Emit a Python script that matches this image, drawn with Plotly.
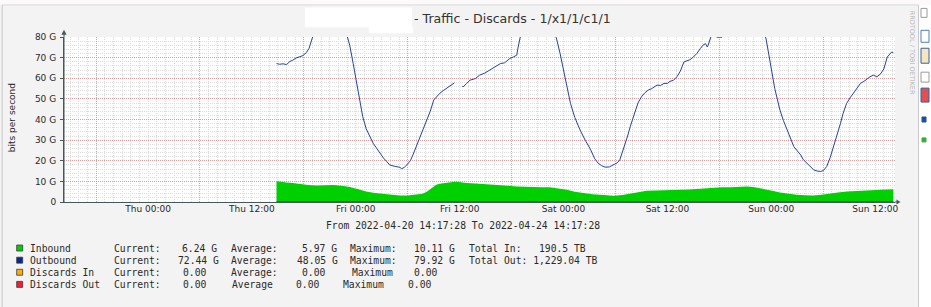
import plotly.graph_objects as go
import pandas as pd

# ---------------- data ----------------
BASE = pd.Timestamp("2022-04-21 00:00")   # Thu 00:00
RANGE_START = "2022-04-20 14:17:28"
RANGE_END = "2022-04-24 14:17:28"

# Inbound (G bits/s), hours after Thu 00:00
in_hours = [14.84, 15.2, 15.6, 16.0, 16.7, 17.5, 18.5, 19.5, 20.4, 21.4, 22.4, 23.3, 24.3, 25.2,
            26.2, 27.2, 28.2, 29.1, 30.0, 31.0, 31.7, 32.2, 32.6, 33.0, 33.3, 33.7, 34.1, 34.5,
            34.9, 35.2, 35.25, 35.45, 35.7, 35.95, 36.0, 36.3, 36.8, 37.8, 38.7, 39.7, 40.7, 41.6,
            42.6, 43.5, 44.5, 45.5, 46.4, 47.4, 48.4, 49.3, 50.3, 51.3, 52.2, 53.2, 53.8, 54.8,
            55.7, 56.7, 57.6, 58.6, 59.6, 60.6, 61.5, 62.5, 63.4, 64.4, 65.3, 66.3, 67.3, 68.2,
            69.2, 70.1, 71.1, 72.1, 73.0, 74.0, 74.9, 75.9, 76.9, 77.8, 78.8, 79.7, 80.7, 81.7,
            82.6, 83.6, 84.6, 85.5, 86.1]
in_vals = [10.1, 9.8, 9.7, 9.5, 9.2, 8.6, 8.2, 8.0, 8.1, 8.2, 7.9, 7.3, 6.2, 5.1,
           4.4, 3.9, 3.5, 3.2, 3.2, 3.5, 4.0, 5.0, 6.3, 7.5, 8.4, 8.9, 9.2, 9.5,
           9.6, 9.7, None, 9.8, 9.9, 9.7, None, 9.5, 9.2, 9.0, 8.8, 8.6, 8.4, 7.9,
           7.5, 7.3, 7.2, 7.2, 7.2, 6.6, 5.9, 5.0, 4.3, 3.8, 3.5, 3.2, 3.0, 3.4,
           4.0, 4.8, 5.5, 5.6, 5.6, 5.7, 5.9, 6.1, 6.4, 6.8, 7.1, 7.1, 7.1, 7.3,
           7.5, 7.1, 6.4, 5.5, 4.6, 4.0, 3.5, 3.3, 3.2, 3.5, 3.9, 4.6, 5.1, 5.4,
           5.6, 5.7, 5.9, 6.0, 6.2]

# Outbound (G bits/s), hours after Thu 00:00
out_hours = [14.84, 15.2, 15.6, 16.0, 16.4, 16.7, 17.1, 17.5, 17.9, 18.3, 18.6, 18.9, 19.3, 20.0,
             21.0, 22.0, 22.7, 23.1, 23.3, 23.7, 24.1, 24.5, 24.8, 25.2, 25.6, 26.0, 26.4, 26.8,
             27.2, 27.6, 27.9, 28.3, 28.7, 29.1, 29.3, 29.6, 29.9, 30.3, 30.6, 31.0, 31.4, 31.8,
             32.2, 32.6, 33.0, 33.4, 33.7, 34.1, 34.5, 34.9, 35.25, 35.4, 35.7, 36.3, 36.4, 36.8,
             37.2, 37.8, 38.3, 38.9, 39.5, 40.1, 40.7, 41.2, 41.8, 42.2, 42.6, 42.7, 43.0, 43.3,
             44.1, 45.3, 46.4, 47.2, 47.6, 48.0, 48.4, 48.8, 49.3, 49.9, 50.5, 51.1, 51.6, 52.0,
             52.4, 52.8, 53.3, 53.8, 54.2, 54.5, 54.8, 55.1, 55.4, 55.7, 56.0, 56.3, 56.6, 57.0,
             57.4, 57.8, 58.2, 58.8, 59.2, 59.6, 60.0, 60.3, 60.7, 61.1, 61.5, 61.9, 62.3, 62.6,
             63.0, 63.4, 63.8, 64.1, 64.4, 64.6, 64.7, 64.9, 65.1, 65.4, 65.7, 66.0, 66.3, 66.5,
             67.3, 69.0, 70.7, 71.4, 71.7, 72.0, 72.4, 72.8, 73.0, 73.4, 73.8, 74.2, 74.6, 75.0,
             75.4, 75.7, 76.1, 76.5, 76.9, 77.3, 77.7, 78.0, 78.4, 78.8, 79.2, 79.6, 80.0, 80.3,
             80.7, 81.1, 81.5, 81.9, 82.3, 82.7, 83.0, 83.4, 83.8, 84.2, 84.6, 85.0, 85.4, 85.6,
             85.9, 86.1]
out_vals = [67.1, 66.8, 67.0, 66.6, 68.2, 68.7, 69.8, 70.5, 71.0, 72.5, 74.5, 78.5, 84, 89,
            93, 91, 85, 79, 76, 67.1, 57.5, 50, 41.4, 35.5, 31.7, 28.5, 26.1, 23.5,
            21.3, 19.5, 18.0, 17.5, 17.2, 16.8, 16.1, 16.8, 18.0, 20.0, 22.8, 27.0, 31.7, 35.5,
            39.8, 44.0, 49.4, 51.5, 52.7, 54.0, 55.1, 56.5, 57.5, 57.8, None, 56.3, 55.8, 57.5,
            59.1, 59.8, 61.5, 62.5, 63.9, 65.5, 67.1, 67.5, 69.6, 70.3, 71.2, 74, 80, 86,
            92, 95, 90, 79, 72, 63.9, 56, 47.8, 41, 35.0, 30.0, 25.6, 21.0, 18.8,
            17.6, 16.9, 17.0, 18.0, 19.0, 20.4, 24.0, 28.5, 32.0, 36.5, 40.5, 44.6, 48.0, 51.0,
            53.0, 54.3, 55.0, 56.7, 56.5, 57.5, 57.5, 58.5, 59.0, 60.7, 63.5, 67.9, 68.5, 69.0,
            70.3, 72.0, 74.4, 76.0, 76.8, 75.2, 76.0, 78.5, 81, 82, 79.9, 79.9, 79.9, 82,
            90, 95, 88, 79, 72, 63.9, 55, 48, 44.6, 39.5, 35, 30.5, 26.9, 24.8,
            22.8, 20.5, 18.8, 17.0, 15.6, 15.0, 14.8, 15.2, 17.2, 21.5, 26.9, 32.5, 38.2, 43.0,
            47.8, 50.5, 52.7, 55.0, 57.5, 58.5, 59.5, 60.7, 61.5, 60.7, 62.0, 64.5, 70.3, 71.5,
            72.7, 72.4]

disc_hours = [14.84, 86.1]
disc_in_vals = [0.0, 0.0]
disc_out_vals = [0.0, 0.0]

ytick_vals = [0, 10, 20, 30, 40, 50, 60, 70, 80]
ytick_text = ["0", "10 G", "20 G", "30 G", "40 G", "50 G", "60 G", "70 G", "80 G"]

xtick_times = ["2022-04-21 00:00", "2022-04-21 12:00", "2022-04-22 00:00", "2022-04-22 12:00",
               "2022-04-23 00:00", "2022-04-23 12:00", "2022-04-24 00:00", "2022-04-24 12:00"]
xtick_text = ["Thu 00:00", "Thu 12:00", "Fri 00:00", "Fri 12:00",
              "Sat 00:00", "Sat 12:00", "Sun 00:00", "Sun 12:00"]
major_grid_times = ["2022-04-20 18:00", "2022-04-21 06:00", "2022-04-21 18:00", "2022-04-22 06:00",
                    "2022-04-22 18:00", "2022-04-23 06:00", "2022-04-23 18:00", "2022-04-24 06:00"]

legend_names = ["Inbound", "Outbound", "Discards In", "Discards Out"]
legend_colors = ["#00CF00", "#002A97", "#FFAB00", "#F51D30"]
legend_rows = [
    ["Current:", "6.24 G", "Average:", "5.97 G", "Maximum:", "10.11 G", "Total In:", "190.5 TB"],
    ["Current:", "72.44 G", "Average:", "48.05 G", "Maximum:", "79.92 G", "Total Out: 1,229.04 TB"],
    ["Current:", "0.00", "Average:", "0.00", "Maximum", "0.00"],
    ["Current:", "0.00", "Average", "0.00", "Maximum", "0.00"],
]

TITLE = "- Traffic - Discards - 1/x1/1/c1/1"
YTITLE = "bits per second"
FROM_TO = "From 2022-04-20 14:17:28 To 2022-04-24 14:17:28"
WATERMARK = "RRDTOOL / TOBI OETIKER"

# ---------------- layout geometry ----------------
W, H = 931, 307
PL, PR, PT, PB = 64.3, 895.0, 36.7, 202.3


def px(x):
    return (x - PL) / (PR - PL)


def py(y):
    return (PB - y) / (PB - PT)


def to_time(hours):
    return [BASE + pd.Timedelta(hours=h) for h in hours]


# hourly minor grid positions, skipping the major (red) grid times
major_set = set(pd.to_datetime(major_grid_times))
minor_times = [t for t in pd.date_range("2022-04-20 15:00", "2022-04-24 14:00", freq="h")
               if t not in major_set]

MONO = "DejaVu Sans Mono"
SANS = "DejaVu Sans"
TXT = "#2a2a2a"
MAJ = "rgba(232,110,110,0.6)"
MIN = "#DDDDDD"

fig = go.Figure()

# invisible trace on the overlay axis that carries the time labels
fig.add_trace(go.Scatter(x=[RANGE_START], y=[0], xaxis="x2", mode="markers",
                         marker=dict(opacity=0), hoverinfo="skip", showlegend=False))
fig.add_trace(go.Scatter(x=to_time(in_hours), y=in_vals, mode="lines", fill="tozeroy",
                         fillcolor="#00CF00", line=dict(width=0, color="#00CF00"),
                         connectgaps=False, hoverinfo="skip", showlegend=False))
fig.add_trace(go.Scatter(x=to_time(out_hours), y=out_vals, mode="lines",
                         line=dict(width=1, color="#2443A3"), connectgaps=False,
                         hoverinfo="skip", showlegend=False))
fig.add_trace(go.Scatter(x=to_time(disc_hours), y=disc_in_vals, mode="lines",
                         line=dict(width=1, color="#FFAB00"), hoverinfo="skip", showlegend=False))
fig.add_trace(go.Scatter(x=to_time(disc_hours), y=disc_out_vals, mode="lines",
                         line=dict(width=1.5, color="#B01818"), hoverinfo="skip", showlegend=False))

shapes = []
# axis extensions with arrows
AX = "#46585A"
shapes.append(dict(type="line", xref="paper", yref="paper", x0=px(PL), x1=px(PL), y0=py(PB), y1=py(32),
                   line=dict(color=AX, width=1), layer="above"))
shapes.append(dict(type="path", xref="paper", yref="paper",
                   path=f"M {px(PL-2.6)},{py(34.5)} L {px(PL+2.6)},{py(34.5)} L {px(PL)},{py(29.5)} Z",
                   fillcolor=AX, line=dict(width=0), layer="above"))
shapes.append(dict(type="line", xref="paper", yref="paper", x0=px(PR), x1=px(897), y0=py(PB), y1=py(PB),
                   line=dict(color=AX, width=1), layer="above"))
shapes.append(dict(type="path", xref="paper", yref="paper",
                   path=f"M {px(896.5)},{py(PB-2.6)} L {px(896.5)},{py(PB+2.6)} L {px(900.5)},{py(PB)} Z",
                   fillcolor=AX, line=dict(width=0), layer="above"))
# redaction box over title prefix
for (x0, y0, x1, y1) in [(305, 7, 412, 27), (369, 26, 413, 33)]:
    shapes.append(dict(type="rect", xref="paper", yref="paper", x0=px(x0), x1=px(x1), y0=py(y1), y1=py(y0),
                       fillcolor="white", line=dict(width=0), layer="above"))
# outside frame (top strip and right column)
shapes.append(dict(type="rect", xref="paper", yref="paper", x0=px(-2), x1=px(W + 2), y0=py(4.5), y1=py(-2),
                   fillcolor="#FBF9F9", line=dict(width=0), layer="above"))
shapes.append(dict(type="rect", xref="paper", yref="paper", x0=px(918.5), x1=px(W + 2), y0=py(H + 2), y1=py(4.5),
                   fillcolor="#FFFFFF", line=dict(width=0), layer="above"))
shapes.append(dict(type="line", xref="paper", yref="paper", x0=px(918.5), x1=px(918.5), y0=py(H + 2), y1=py(4.5),
                   line=dict(color="#C9C9C9", width=1), layer="above"))
shapes.append(dict(type="line", xref="paper", yref="paper", x0=px(2.5), x1=px(2.5), y0=py(H + 2), y1=py(4.5),
                   line=dict(color="#C9C9C9", width=1), layer="above"))
shapes.append(dict(type="line", xref="paper", yref="paper", x0=px(2.5), x1=px(918.5), y0=py(4.5), y1=py(4.5),
                   line=dict(color="#DADADA", width=1), layer="above"))
# icon stubs in the right column
icons = [(921, 8, 927, 17, "#FFFFFF", "#9A9A9A"), (921, 30, 929, 42, "#FFFFFF", "#4A7EC0"),
         (921, 48, 929, 63, "#F4E7C0", "#3A5FA0"), (921, 72, 929, 82, "#FFFFFF", "#9A9A9A"),
         (921, 88, 929, 102, "#E05050", "#3060B0"), (922, 117, 926, 122, "#1F4E9A", "#1F4E9A"),
         (922, 138, 926, 142, "#3DAA3D", "#3DAA3D")]
for (x0, y0, x1, y1, fc, lc) in icons:
    shapes.append(dict(type="rect", xref="paper", yref="paper", x0=px(x0), x1=px(x1), y0=py(y1), y1=py(y0),
                       fillcolor=fc, line=dict(color=lc, width=1), layer="above"))

# legend squares
ROW_Y = [248.5, 260.7, 272.8, 285.0]
for c, yy in zip(legend_colors, ROW_Y):
    shapes.append(dict(type="rect", xref="paper", yref="paper", x0=px(17), x1=px(23),
                       y0=py(yy + 3), y1=py(yy - 3), fillcolor=c,
                       line=dict(color="#3C3C3C", width=0.8), layer="above"))

annotations = []


def add_text(x, y, text, size=9.7, family=MONO, xanchor="left", color=TXT, angle=0):
    annotations.append(dict(xref="paper", yref="paper", x=px(x), y=py(y), text=text, showarrow=False,
                            xanchor=xanchor, yanchor="middle", textangle=angle,
                            font=dict(family=family, size=size, color=color), borderpad=0))


add_text(413.5, 18.3, TITLE, size=12.6, family=SANS, color="#333333")
add_text(12.5, 118, YTITLE, size=9, family=SANS, xanchor="center", angle=-90)
add_text(463.5, 225.7, FROM_TO, size=9.7, family=MONO, xanchor="center")
add_text(911.5, 52, WATERMARK, size=6.5, family=SANS, xanchor="center", color="#B8B8B8", angle=90)

# legend text pieces, left x positions per row
row_x = [
    [113.3, 181.2, 230.5, 300.9, 349.0, 413.4, 467.8, 538.6],
    [113.3, 176.9, 230.5, 296.0, 349.0, 413.4, 467.8],
    [113.3, 182.0, 230.5, 300.9, 351.0, 413.4],
    [113.3, 182.0, 231.7, 295.0, 342.6, 407.0],
]
for name, yy, pieces, xs in zip(legend_names, ROW_Y, legend_rows, row_x):
    add_text(29, yy, name)
    for t, xx in zip(pieces, xs):
        add_text(xx, yy, t)

fig.update_layout(
    width=W, height=H,
    margin=dict(l=PL, r=W - PR, t=PT, b=H - PB, pad=0),
    paper_bgcolor="#F3F3F3", plot_bgcolor="#FFFFFF",
    showlegend=False,
    shapes=shapes, annotations=annotations,
    # main x axis: carries the red 06:00/18:00 grid and the hourly minor grid
    xaxis=dict(range=[RANGE_START, RANGE_END], type="date",
               tickmode="array", tickvals=major_grid_times, showticklabels=False,
               showgrid=True, gridcolor="rgba(232,110,110,0.7)", griddash="1px,1px", gridwidth=1,
               zeroline=False, showline=True, linecolor=AX, linewidth=1,
               ticks="", layer="below traces",
               minor=dict(tickmode="array", tickvals=minor_times,
                          showgrid=True, gridcolor=MIN, griddash="1px,1px", gridwidth=1,
                          ticks="")),
    # overlay x axis: carries the day/time labels
    xaxis2=dict(range=[RANGE_START, RANGE_END], type="date", overlaying="x", anchor="y",
                side="bottom", tickmode="array", tickvals=xtick_times, ticktext=xtick_text,
                showticklabels=True, ticks="", showline=False, zeroline=False, showgrid=False,
                tickfont=dict(family=SANS, size=9, color=TXT), layer="below traces"),
    yaxis=dict(range=[0, 80], tickmode="array", tickvals=ytick_vals, ticktext=ytick_text,
               showgrid=True, gridcolor=MAJ, griddash="1px,1px", gridwidth=1,
               zeroline=False, showline=True, linecolor=AX, linewidth=1,
               ticks="outside", ticklen=3, tickcolor=AX, ticklabelstandoff=2,
               tickfont=dict(family=SANS, size=9, color=TXT), layer="below traces",
               minor=dict(tickmode="linear", tick0=0, dtick=2, showgrid=True,
                          gridcolor=MIN, griddash="1px,1px", gridwidth=1, ticks="")),
)

fig.write_html("out.html")
